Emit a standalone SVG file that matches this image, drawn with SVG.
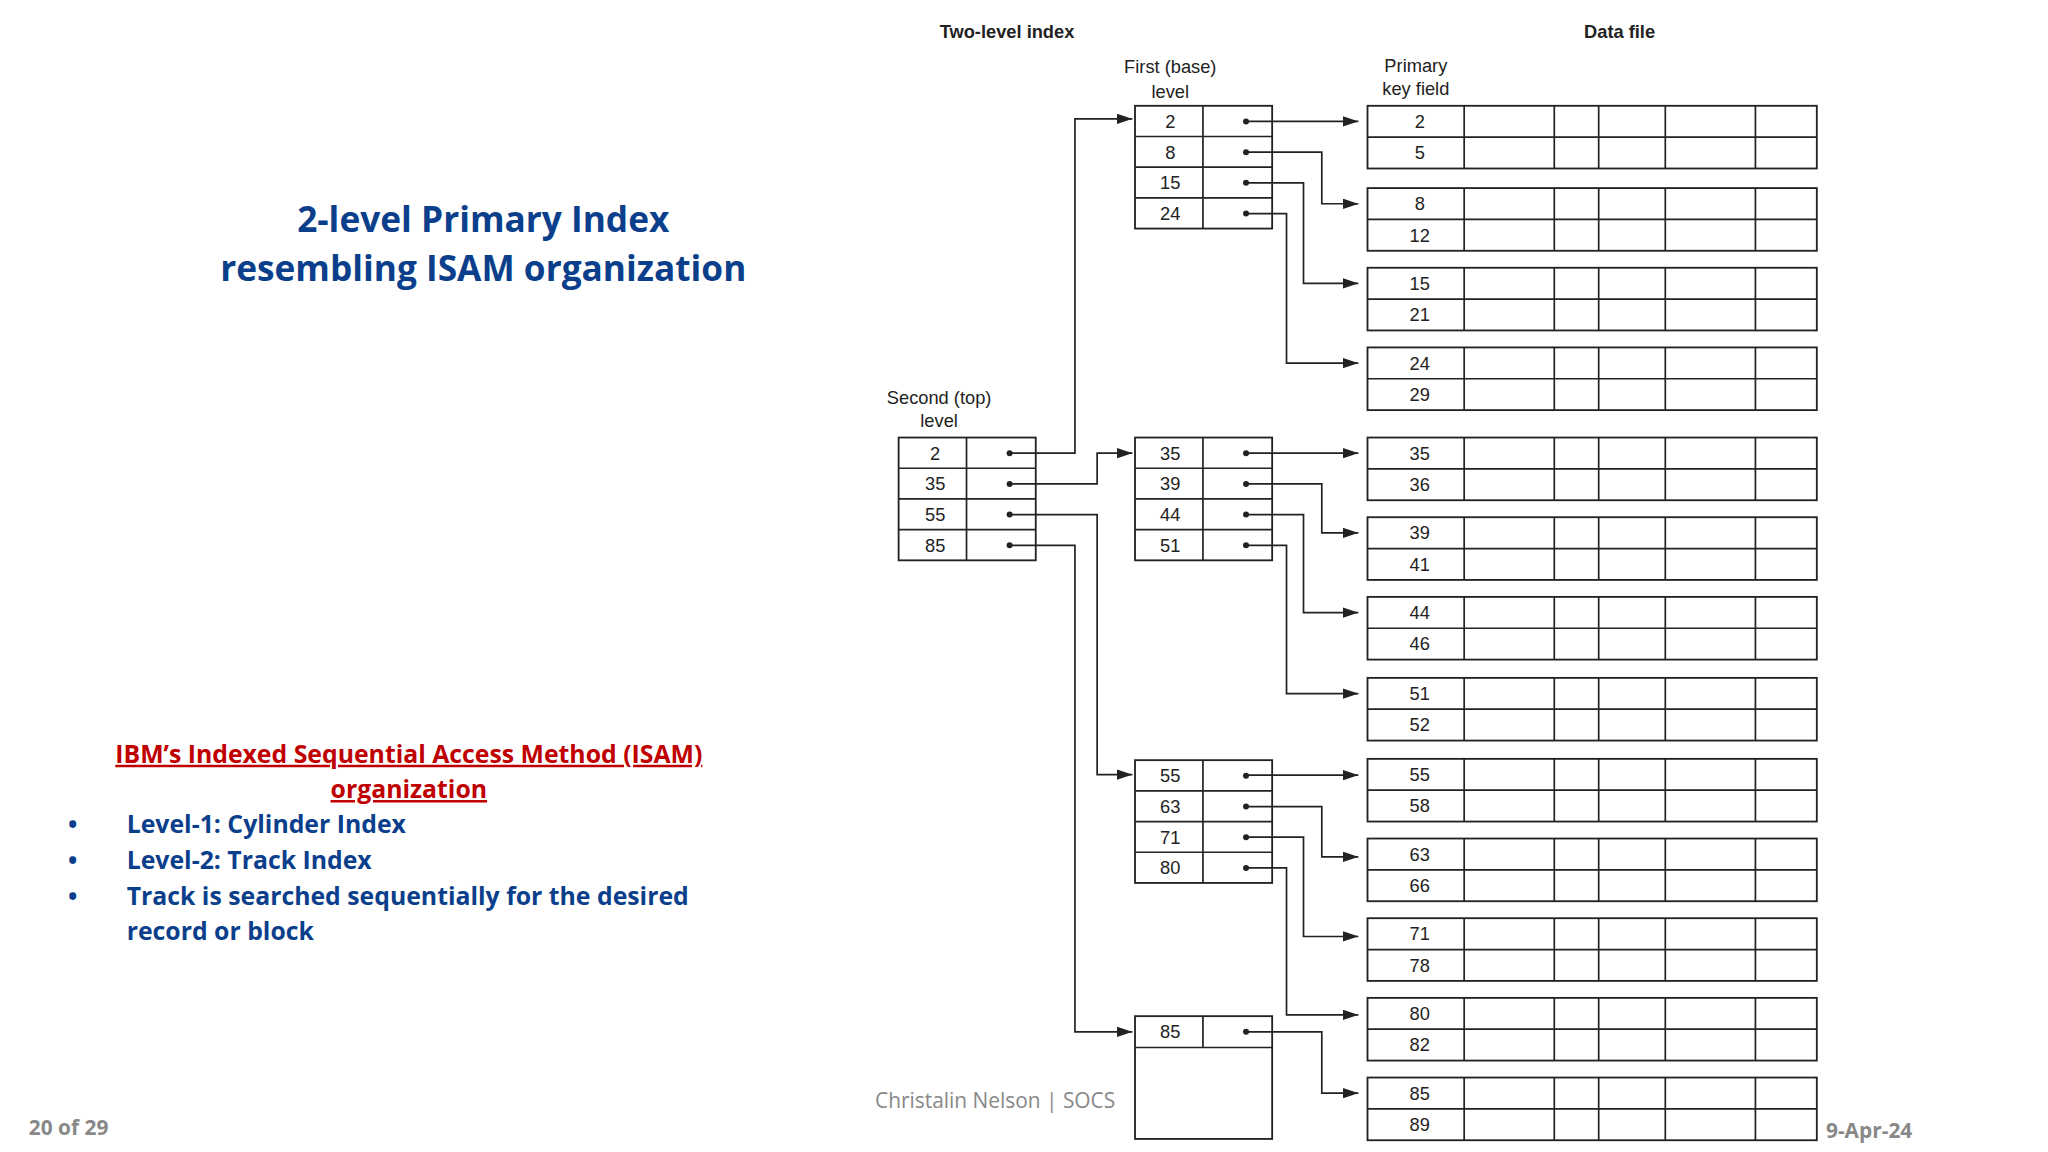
<svg xmlns="http://www.w3.org/2000/svg" xmlns:xlink="http://www.w3.org/1999/xlink" width="2048" height="1152" viewBox="0 0 2048 1152">
<style>
.t{font-family:"Liberation Sans",Arial,sans-serif;font-size:14px;fill:#222;text-anchor:middle}
.hb{font-family:"Liberation Sans",Arial,sans-serif;font-size:14px;font-weight:bold;fill:#222;text-anchor:middle}
.ttl{font-family:"Open Sans","Liberation Sans",sans-serif;font-size:27px;font-weight:bold;fill:#0b3f8c;text-anchor:middle}
.red{font-family:"Open Sans","Liberation Sans",sans-serif;font-size:19px;font-weight:bold;fill:#c00000;text-anchor:middle;text-decoration:underline}
.bl{font-family:"Open Sans","Liberation Sans",sans-serif;font-size:19px;font-weight:bold;fill:#0b3f8c}
.ft{font-family:"Open Sans","Liberation Sans",sans-serif;font-size:16px;fill:#888}
.box{fill:none;stroke:#222;stroke-width:1.4}
.ln{fill:none;stroke:#222;stroke-width:1.3}
.c{fill:none;stroke:#222;stroke-width:1.3}
</style>
<defs>
<marker id="ah" markerUnits="userSpaceOnUse" markerWidth="12" markerHeight="8" refX="12" refY="4" orient="auto"><path d="M0,0 L12,4 L0,8 z" fill="#222"/></marker>
<g id="db"><rect class="box" x="0" y="0" width="344" height="48"/><path class="ln" d="M0 24 H344 M74 0 V48 M143 0 V48 M177 0 V48 M228 0 V48 M297 0 V48" stroke="#555"/></g>
<g id="ix"><rect class="box" x="0" y="0" width="105" height="94"/><path class="ln" d="M0 23.5 H105 M0 47 H105 M0 70.5 H105 M52 0 V94"/><circle cx="85" cy="12" r="2.3" fill="#222"/><circle cx="85" cy="35.5" r="2.3" fill="#222"/><circle cx="85" cy="59" r="2.3" fill="#222"/><circle cx="85" cy="82.5" r="2.3" fill="#222"/></g>
</defs>
<rect width="2048" height="1152" fill="#fff"/>
<g transform="scale(1.30612)">
<g id="title"><text class="ttl" x="370" y="178">2-level Primary Index</text><text class="ttl" x="370" y="215">resembling ISAM organization</text></g>
<g id="notes">
<text class="red" x="313" y="584">IBM’s Indexed Sequential Access Method (ISAM)</text>
<text class="red" x="313" y="611">organization</text>
<text class="bl" x="52" y="638">•</text><text class="bl" x="97" y="638">Level-1: Cylinder Index</text>
<text class="bl" x="52" y="665">•</text><text class="bl" x="97" y="665">Level-2: Track Index</text>
<text class="bl" x="52" y="693">•</text><text class="bl" x="97" y="693">Track is searched sequentially for the desired</text>
<text class="bl" x="97" y="720">record or block</text>
</g>
<g id="footer">
<text class="ft" x="22" y="869" font-weight="bold">20 of 29</text>
<text class="ft" x="670" y="848">Christalin Nelson | SOCS</text>
<text class="ft" x="1398" y="871" font-weight="bold">9-Apr-24</text>
</g>
<g id="headers">
<text class="hb" x="771" y="29">Two-level index</text>
<text class="hb" x="1240" y="29">Data file</text>
<text class="t" x="896" y="56">First (base)</text><text class="t" x="896" y="75">level</text>
<text class="t" x="1084" y="55">Primary</text><text class="t" x="1084" y="73">key field</text>
<text class="t" x="719" y="309">Second (top)</text><text class="t" x="719" y="327">level</text>
</g>
<g id="second-level"><use xlink:href="#ix" x="689" y="335" transform="translate(-1 0)"/>
<text class="t" x="716" y="352">2</text><text class="t" x="716" y="375.5">35</text><text class="t" x="716" y="399">55</text><text class="t" x="716" y="422.5">85</text></g>
<g id="first-level-1"><use xlink:href="#ix" x="869" y="81"/>
<text class="t" x="896" y="98">2</text><text class="t" x="896" y="121.5">8</text><text class="t" x="896" y="145">15</text><text class="t" x="896" y="168.5">24</text></g>
<g id="first-level-2"><use xlink:href="#ix" x="869" y="335"/>
<text class="t" x="896" y="352">35</text><text class="t" x="896" y="375.5">39</text><text class="t" x="896" y="399">44</text><text class="t" x="896" y="422.5">51</text></g>
<g id="first-level-3"><use xlink:href="#ix" x="869" y="582"/>
<text class="t" x="896" y="599">55</text><text class="t" x="896" y="622.5">63</text><text class="t" x="896" y="646">71</text><text class="t" x="896" y="669.5">80</text></g>
<g id="first-level-4"><rect class="box" x="869" y="778" width="105" height="94"/><path class="ln" d="M869 802 H974 M921 778 V802"/><circle cx="954" cy="790" r="2.3" fill="#222"/><text class="t" x="896" y="795">85</text></g>
<g id="data-file">
<use xlink:href="#db" x="1047" y="81"/><text class="t" x="1087" y="98">2</text><text class="t" x="1087" y="122">5</text>
<use xlink:href="#db" x="1047" y="144"/><text class="t" x="1087" y="161">8</text><text class="t" x="1087" y="185">12</text>
<use xlink:href="#db" x="1047" y="205"/><text class="t" x="1087" y="222">15</text><text class="t" x="1087" y="246">21</text>
<use xlink:href="#db" x="1047" y="266"/><text class="t" x="1087" y="283">24</text><text class="t" x="1087" y="307">29</text>
<use xlink:href="#db" x="1047" y="335"/><text class="t" x="1087" y="352">35</text><text class="t" x="1087" y="376">36</text>
<use xlink:href="#db" x="1047" y="396"/><text class="t" x="1087" y="413">39</text><text class="t" x="1087" y="437">41</text>
<use xlink:href="#db" x="1047" y="457"/><text class="t" x="1087" y="474">44</text><text class="t" x="1087" y="498">46</text>
<use xlink:href="#db" x="1047" y="519"/><text class="t" x="1087" y="536">51</text><text class="t" x="1087" y="560">52</text>
<use xlink:href="#db" x="1047" y="581"/><text class="t" x="1087" y="598">55</text><text class="t" x="1087" y="622">58</text>
<use xlink:href="#db" x="1047" y="642"/><text class="t" x="1087" y="659">63</text><text class="t" x="1087" y="683">66</text>
<use xlink:href="#db" x="1047" y="703"/><text class="t" x="1087" y="720">71</text><text class="t" x="1087" y="744">78</text>
<use xlink:href="#db" x="1047" y="764"/><text class="t" x="1087" y="781">80</text><text class="t" x="1087" y="805">82</text>
<use xlink:href="#db" x="1047" y="825"/><text class="t" x="1087" y="842">85</text><text class="t" x="1087" y="866">89</text>
</g>
<g id="connectors">
<path class="c" d="M954 93 H1040" marker-end="url(#ah)"/>
<path class="c" d="M954 116.5 H1012 V156 H1040" marker-end="url(#ah)"/>
<path class="c" d="M954 140 H998 V217 H1040" marker-end="url(#ah)"/>
<path class="c" d="M954 163.5 H985 V278 H1040" marker-end="url(#ah)"/>
<path class="c" d="M954 347 H1040" marker-end="url(#ah)"/>
<path class="c" d="M954 370.5 H1012 V408 H1040" marker-end="url(#ah)"/>
<path class="c" d="M954 394 H998 V469 H1040" marker-end="url(#ah)"/>
<path class="c" d="M954 417.5 H985 V531 H1040" marker-end="url(#ah)"/>
<path class="c" d="M954 593.5 H1040" marker-end="url(#ah)"/>
<path class="c" d="M954 617.5 H1012 V656 H1040" marker-end="url(#ah)"/>
<path class="c" d="M954 641 H998 V717 H1040" marker-end="url(#ah)"/>
<path class="c" d="M954 664.5 H985 V777 H1040" marker-end="url(#ah)"/>
<path class="c" d="M954 790 H1012 V837 H1040" marker-end="url(#ah)"/>
<path class="c" d="M772 347 H823 V91 H867" marker-end="url(#ah)"/>
<path class="c" d="M772 370.5 H840 V347 H867" marker-end="url(#ah)"/>
<path class="c" d="M772 394 H840 V593 H867" marker-end="url(#ah)"/>
<path class="c" d="M772 417.5 H823 V790 H867" marker-end="url(#ah)"/>
</g>
</g>
</svg>
